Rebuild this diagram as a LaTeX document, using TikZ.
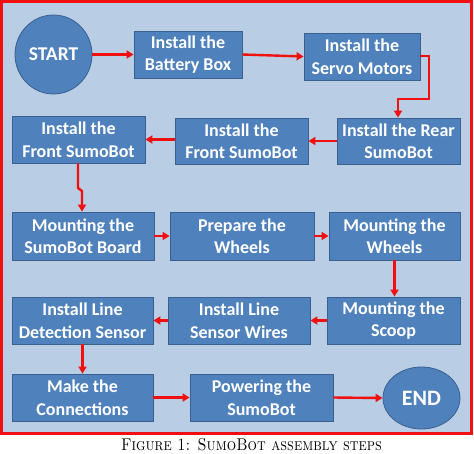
\documentclass[tikz,border=0pt]{standalone}
\usepackage{fontspec}
\setmainfont{Carlito}
\newfontfamily\capfont{lmromancaps10-regular.otf}
\usetikzlibrary{arrows.meta,shapes.geometric}
\definecolor{bgblue}{HTML}{B9CDE5}
\definecolor{boxblue}{HTML}{4F81BD}
\definecolor{boxedge}{HTML}{3A6090}
\definecolor{arrred}{HTML}{F01010}
\tikzset{
  stepbox/.style={draw=boxedge, line width=0.8pt, fill=boxblue, text=white, font=\fontsize{18}{22.5}\selectfont\bfseries, align=center, inner sep=0pt, minimum height=47pt},
  term/.style={ellipse, draw=boxedge, line width=0.8pt, fill=boxblue, text=white, inner sep=0pt},
  flow/.style={draw=arrred, line width=2.4pt, -{Triangle[length=7pt,width=8pt]}}
}
\begin{document}
\begin{tikzpicture}[x=1pt,y=-1pt]
\useasboundingbox (0,0) rectangle (474,453);
\fill[white] (0,0) rectangle (474,453);
\draw[draw=arrred, line width=3pt, fill=bgblue] (1.5,1.5) rectangle (471,433);
% nodes
\node[term, minimum width=77pt, minimum height=79pt, font=\fontsize{19.5}{22}\selectfont\bfseries] (start) at (53.5,54.5) {START};
\node[stepbox, minimum width=108pt] (bat) at (188,54.5) {Install the\\Battery Box};
\node[stepbox, minimum width=116pt] (servo) at (362,56.5) {Install the\\Servo Motors};
\node[stepbox, minimum width=123pt, minimum height=46pt] (rear) at (398.5,141) {Install the Rear\\SumoBot};
\node[stepbox, minimum width=133pt, minimum height=46pt] (frontm) at (241.5,141) {Install the\\Front SumoBot};
\node[stepbox, minimum width=133pt] (frontl) at (78.5,139.5) {Install the\\Front SumoBot};
\node[stepbox, minimum width=142pt, minimum height=48pt] (board) at (83,236) {Mounting the\\SumoBot Board};
\node[stepbox, minimum width=144pt, minimum height=48pt] (prep) at (242,236) {Prepare the\\Wheels};
\node[stepbox, minimum width=131pt, minimum height=48pt] (wheels) at (394.5,236) {Mounting the\\Wheels};
\node[stepbox, minimum width=133pt] (scoop) at (393.5,320.5) {Mounting the\\Scoop};
\node[stepbox, minimum width=142pt] (wires) at (239,320.5) {Install Line\\Sensor Wires};
\node[stepbox, minimum width=141pt] (detect) at (82.5,320.5) {Install Line\\Detection Sensor};
\node[stepbox, minimum width=141pt] (make) at (82.5,397.5) {Make the\\Connections};
\node[stepbox, minimum width=143pt] (power) at (261.5,397.5) {Powering the\\SumoBot};
\node[term, minimum width=77pt, minimum height=62pt, font=\fontsize{22}{24}\selectfont\bfseries] (end) at (421.5,398) {END};
% caption
\node[font=\fontsize{17}{20}\selectfont, anchor=base, inner sep=0pt] (cap) at (251.5,450) {\scalebox{0.87}[1]{\capfont Figure 1: SumoBot assembly steps}};
% connectors
\draw[flow] (start.east) -- (bat.west);
\draw[flow] (bat.east) -- (servo.west);
\coordinate (c1) at (429,56);
\coordinate (c2) at (429,99);
\coordinate (c3) at (398,99);
\draw[flow] (servo.east |- c1) -- (c1) -- (c2) -- (c3) -- (c3 |- rear.north);
\draw[flow] (rear.west) -- (frontm.east);
\draw[flow] (frontm.west |- frontl.east) -- (frontl.east);
\coordinate (d1) at (78,188);
\coordinate (d2) at (82,191);
\draw[flow] (frontl.south -| d1) -- (d1) -- (d2) -- (d2 |- board.north);
\draw[flow] (board.east) -- (prep.west);
\draw[flow] (prep.east) -- (wheels.west);
\draw[flow] (wheels.south) -- (wheels.south |- scoop.north);
\draw[flow] (scoop.west) -- (wires.east);
\draw[flow] (wires.west) -- (detect.east);
\draw[flow] (detect.south) -- (detect.south |- make.north);
\draw[flow] (make.east) -- (power.west);
\draw[flow] (power.east) -- (end.west);
\end{tikzpicture}
\end{document}
